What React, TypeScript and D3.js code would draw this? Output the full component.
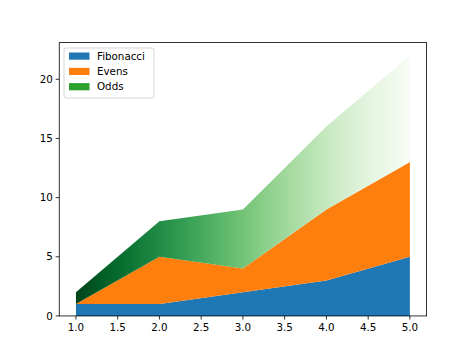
import React from "react";
import * as d3 from "d3";

const xs = [1, 2, 3, 4, 5];
const fibonacci = [1, 1, 2, 3, 5];
const evens = [0, 4, 2, 6, 8];
const odds = [1, 3, 5, 7, 9];
const seriesNames = ["Fibonacci", "Evens", "Odds"];
const seriesColors = ["#1f77b4", "#ff7f0e", "#2ca02c"];
const xTicks = [1.0, 1.5, 2.0, 2.5, 3.0, 3.5, 4.0, 4.5, 5.0];
const yTicks = [0, 5, 10, 15, 20];

const W = 474, H = 355;
const L = 59.25, R = 426.6, T = 42.6, B = 315.95;

export default function App() {
  const rows = xs.map((x, i) => ({ x, Fibonacci: fibonacci[i], Evens: evens[i], Odds: odds[i] }));
  const stack = d3.stack<any>().keys(seriesNames)(rows);
  const x = d3.scaleLinear().domain([0.8, 5.2]).range([L, R]);
  const y = d3.scaleLinear().domain([0, 23.1]).range([B, T]);
  const area = d3.area<any>().x((d) => x(d.data.x)).y0((d) => y(d[0])).y1((d) => y(d[1]));
  const stops = d3.range(0, 1.0001, 0.05);
  const font = "DejaVu Sans, sans-serif";
  const fs = 10.3;
  return (
    <svg width={W} height={H} style={{ position: "absolute", left: 0, top: 0 }}>
      <defs>
        <linearGradient id="greens" gradientUnits="userSpaceOnUse" x1={x(1)} x2={x(5)} y1={0} y2={0}>
          {stops.map((t) => (
            <stop key={t} offset={t} stopColor={d3.interpolateGreens(1 - t)} />
          ))}
        </linearGradient>
      </defs>
      <rect width={W} height={H} fill="white" />
      {stack.map((s, i) => (
        <path key={s.key} d={area(s) || ""} fill={i === 2 ? "url(#greens)" : seriesColors[i]} />
      ))}
      <rect x={L} y={T} width={R - L} height={B - T} fill="none" stroke="black" strokeWidth={0.8} />
      {xTicks.map((t) => (
        <g key={t}>
          <line x1={x(t)} x2={x(t)} y1={B} y2={B + 3.6} stroke="black" strokeWidth={0.8} />
          <text x={x(t)} y={B + 6.5} dy="0.8em" textAnchor="middle" fontFamily={font} fontSize={fs}>
            {t.toFixed(1)}
          </text>
        </g>
      ))}
      {yTicks.map((t) => (
        <g key={t}>
          <line x1={L - 3.6} x2={L} y1={y(t)} y2={y(t)} stroke="black" strokeWidth={0.8} />
          <text x={L - 6.5} y={y(t)} dy="0.35em" textAnchor="end" fontFamily={font} fontSize={fs}>
            {t}
          </text>
        </g>
      ))}
      <rect x={64} y={48} width={90} height={50} rx={2} fill="white" fillOpacity={0.8} stroke="#cccccc" strokeWidth={0.8} />
      {seriesNames.map((n, i) => (
        <g key={n}>
          <rect x={69} y={52.5 + i * 15.3} width={20.5} height={7.2} fill={seriesColors[i]} />
          <text x={97} y={56.1 + i * 15.3} dy="0.35em" fontFamily={font} fontSize={fs}>
            {n}
          </text>
        </g>
      ))}
    </svg>
  );
}
